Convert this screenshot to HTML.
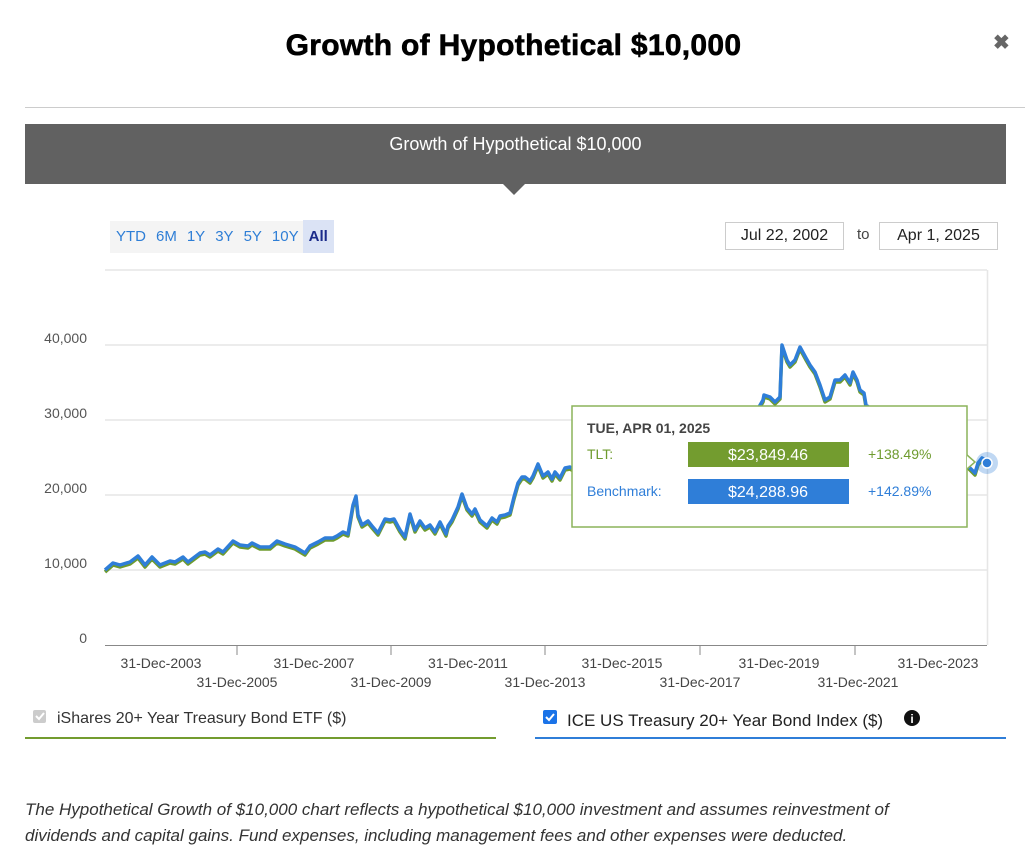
<!DOCTYPE html>
<html><head><meta charset="utf-8"><style>
body{margin:0;width:1027px;height:855px;background:#fff;font-family:"Liberation Sans",sans-serif;position:relative;overflow:hidden}
.abs{position:absolute}
</style></head><body>
<div class="abs" style="left:0;width:1027px;top:29px;text-align:center;font-size:30px;font-weight:900;color:#000;letter-spacing:0.3px;-webkit-text-stroke:0.6px #000">Growth of Hypothetical $10,000</div>
<div class="abs" style="left:993px;top:30px;font-size:20px;color:#666;font-weight:bold">✖</div>
<div class="abs" style="left:25px;top:107px;width:1000px;height:1px;background:#ccc"></div>
<div class="abs" style="left:25px;top:124px;width:981px;height:60px;background:#616161;color:#fff;font-size:18px;text-align:center;line-height:40px">Growth of Hypothetical $10,000</div>
<div class="abs" style="left:503px;top:184px;width:0;height:0;border-left:11px solid transparent;border-right:11px solid transparent;border-top:11px solid #616161"></div>
<div class="abs" style="left:110px;top:221px;height:32px;background:#f4f4f4;font-size:15px;color:#2e7ed6;line-height:32px;white-space:nowrap">
<span style="margin-left:6px">YTD</span><span style="margin-left:10px">6M</span><span style="margin-left:10px">1Y</span><span style="margin-left:10px">3Y</span><span style="margin-left:10px">5Y</span><span style="margin-left:10px">10Y</span><span style="margin-left:4px;background:#dbe3f5;color:#1a2a8a;font-weight:bold;padding:8px 6px">All</span></div>
<div class="abs" style="left:725px;top:222px;width:117px;height:26px;border:1px solid #ccc;font-size:16px;line-height:26px;text-align:center;color:#222">Jul 22, 2002</div>
<div class="abs" style="left:857px;top:226px;font-size:15px;color:#444">to</div>
<div class="abs" style="left:879px;top:222px;width:117px;height:26px;border:1px solid #ccc;font-size:16px;line-height:26px;text-align:center;color:#222">Apr 1, 2025</div>
<svg class="abs" style="left:0;top:0" width="1027" height="855">
<g stroke="#e6e6e6" stroke-width="1.5">
<line x1="105" y1="270" x2="987" y2="270"/><line x1="105" y1="345" x2="987" y2="345"/><line x1="105" y1="420" x2="987" y2="420"/><line x1="105" y1="495" x2="987" y2="495"/><line x1="105" y1="570" x2="987" y2="570"/>
<line x1="987.5" y1="270" x2="987.5" y2="645"/></g>
<line x1="105" y1="645.5" x2="987" y2="645.5" stroke="#888"/>
<g stroke="#888"><line x1="237" y1="645" x2="237" y2="655"/><line x1="391" y1="645" x2="391" y2="655"/><line x1="545" y1="645" x2="545" y2="655"/><line x1="700" y1="645" x2="700" y2="655"/><line x1="855" y1="645" x2="855" y2="655"/></g>
<g font-size="14" fill="#555" text-anchor="end"><text x="87" y="343">40,000</text><text x="87" y="418">30,000</text><text x="87" y="493">20,000</text><text x="87" y="568">10,000</text><text x="87" y="643">0</text></g>
<g font-size="14" fill="#444" text-anchor="middle"><text x="161" y="668">31-Dec-2003</text><text x="237" y="687">31-Dec-2005</text><text x="314" y="668">31-Dec-2007</text><text x="391" y="687">31-Dec-2009</text><text x="468" y="668">31-Dec-2011</text><text x="545" y="687">31-Dec-2013</text><text x="622" y="668">31-Dec-2015</text><text x="700" y="687">31-Dec-2017</text><text x="779" y="668">31-Dec-2019</text><text x="858" y="687">31-Dec-2021</text><text x="938" y="668">31-Dec-2023</text></g>
<g fill="none" stroke-width="3.5" stroke-linejoin="round">
<polyline stroke="#6e9b2e" transform="translate(0,2)" points="105,570 113,563 120,565 130,562 138,556 145,565 152,557 160,565 170,561 175,562 183,557 188,562 200,553 205,552 210,555 218,549 223,552 233,541 240,545 248,546 252,543 260,547 270,547 277,541 285,544 295,547 300,550 305,553 310,546 318,542 325,538 333,538 337,536 343,532 348,534 353,505 356,496 358,515 362,525 368,521 372,526 378,533 385,519 390,520 394,519 400,530 405,537 410,514 415,530 420,521 425,528 430,525 435,532 440,522 446,534 448,526 452,520 458,507 462,494 467,508 472,514 475,509 480,520 487,526 492,518 497,522 500,516 505,515 510,513 512,505 514,497 518,483 522,477 525,477 530,481 533,476 538,464 543,476 548,472 552,479 555,472 560,478 565,468 570,467 575,470 600,455 650,470 700,455 740,440 763,400 764,395 770,397 775,402 780,397 782,345 787,360 790,365 795,360 800,347 806,358 810,365 815,372 820,385 825,400 830,397 835,380 840,380 845,375 850,383 853,372 857,380 860,390 864,393 866,405 900,430 967,465 975,473 978,463 982,458 987,461"/>
<polyline stroke="#2f7ed8" points="105,570 113,563 120,565 130,562 138,556 145,565 152,557 160,565 170,561 175,562 183,557 188,562 200,553 205,552 210,555 218,549 223,552 233,541 240,545 248,546 252,543 260,547 270,547 277,541 285,544 295,547 300,550 305,553 310,546 318,542 325,538 333,538 337,536 343,532 348,534 353,505 356,496 358,515 362,525 368,521 372,526 378,533 385,519 390,520 394,519 400,530 405,537 410,514 415,530 420,521 425,528 430,525 435,532 440,522 446,534 448,526 452,520 458,507 462,494 467,508 472,514 475,509 480,520 487,526 492,518 497,522 500,516 505,515 510,513 512,505 514,497 518,483 522,477 525,477 530,481 533,476 538,464 543,476 548,472 552,479 555,472 560,478 565,468 570,467 575,470 600,455 650,470 700,455 740,440 763,400 764,395 770,397 775,402 780,397 782,345 787,360 790,365 795,360 800,347 806,358 810,365 815,372 820,385 825,400 830,397 835,380 840,380 845,375 850,383 853,372 857,380 860,390 864,393 866,405 900,430 967,465 975,473 978,463 982,458 987,461"/>
</g>
<rect x="572" y="406" width="395" height="121" fill="#fff" stroke="#8bb35a" stroke-width="1.5"/>
<path d="M967,455 L975,462 L967,469" fill="#fff" stroke="#8bb35a" stroke-width="1.5"/>
<circle cx="987" cy="463" r="11" fill="#2f7ed8" opacity="0.3"/><circle cx="987" cy="463" r="5" fill="#2f7ed8" stroke="#fff" stroke-width="1.5"/>
<text x="587" y="433" font-size="14" font-weight="bold" fill="#444">TUE, APR 01, 2025</text>
<text x="587" y="459" font-size="14" fill="#6e9b2e">TLT:</text>
<rect x="688" y="442" width="161" height="25" fill="#739c2f"/>
<text x="768" y="460" font-size="16" fill="#fff" text-anchor="middle">$23,849.46</text>
<text x="868" y="459" font-size="14" fill="#6e9b2e">+138.49%</text>
<text x="587" y="496" font-size="14" fill="#2f7ed8">Benchmark:</text>
<rect x="688" y="479" width="161" height="25" fill="#2f7ed8"/>
<text x="768" y="497" font-size="16" fill="#fff" text-anchor="middle">$24,288.96</text>
<text x="868" y="496" font-size="14" fill="#2f7ed8">+142.89%</text>
<rect x="33" y="710" width="13" height="13" rx="2" fill="#ccc"/><path d="M36,716 l3,3 l5,-6" stroke="#fff" stroke-width="2" fill="none"/>
<text x="57" y="723" font-size="16" fill="#333">iShares 20+ Year Treasury Bond ETF ($)</text>
<line x1="25" y1="738" x2="496" y2="738" stroke="#739c2f" stroke-width="2"/>
<rect x="543" y="710" width="14" height="14" rx="2" fill="#1a73e8"/><path d="M546,717 l3,3 l5,-6" stroke="#fff" stroke-width="2" fill="none"/>
<text x="567" y="726" font-size="17" fill="#222">ICE US Treasury 20+ Year Bond Index ($)</text>
<circle cx="912" cy="718" r="8" fill="#111"/><text x="912" y="723" font-size="12" font-weight="bold" fill="#fff" text-anchor="middle">i</text>
<line x1="535" y1="738" x2="1006" y2="738" stroke="#2f7ed8" stroke-width="2"/>
</svg>
<div class="abs" style="left:25px;top:797px;width:940px;font-size:17px;font-style:italic;color:#333;line-height:26px">The Hypothetical Growth of $10,000 chart reflects a hypothetical $10,000 investment and assumes reinvestment of dividends and capital gains. Fund expenses, including management fees and other expenses were deducted.</div>
</body></html>
